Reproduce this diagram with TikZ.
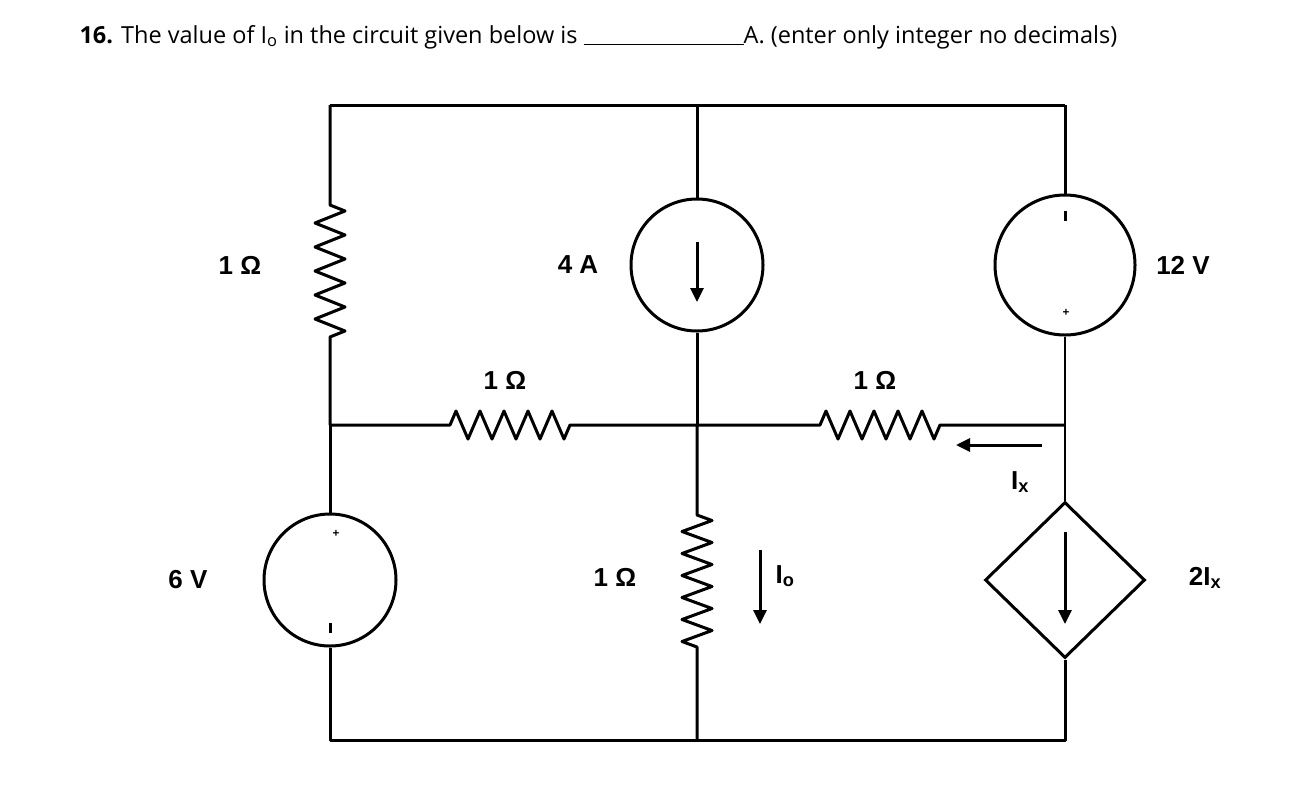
\documentclass[tikz,border=0pt]{standalone}
\usepackage{fontspec}
\setmainfont{Open Sans}
\newfontfamily\lab{Liberation Sans}
\usetikzlibrary{arrows.meta,shapes.geometric}
\begin{document}
\begin{tikzpicture}[x=1pt,y=-1pt,
  wire/.style={line width=3pt,line join=round},
  thin/.style={line width=2pt},
  src/.style={draw,circle,line width=3pt,minimum size=132pt,inner sep=0},
  lbl/.style={font=\lab\bfseries\fontsize{26}{28}\selectfont},
  arr/.style={line width=3pt,-{Triangle[length=14pt,width=13pt]}}]
\useasboundingbox (0,0) rectangle (1308,793);
\node[anchor=west,font=\fontsize{23.5}{26}\selectfont] (title) at (76,37) {\textbf{16.} The value of I\textsubscript{o} in the circuit given below is \rule[-2pt]{160pt}{1.2pt}A. (enter only integer no decimals)};
\coordinate (TL) at (330,105); \coordinate (TM) at (697,105); \coordinate (TR) at (1065,105);
\coordinate (ML) at (330,425); \coordinate (MM) at (697,425); \coordinate (MR) at (1065,425);
\coordinate (BL) at (330,740); \coordinate (BM) at (697,740); \coordinate (BR) at (1065,740);
\node[src] (V6) at (330,580) {};
\node[src] (I4) at (697,265) {};
\node[src,minimum size=140pt] (V12) at (1065,265) {};
\node[draw,diamond,line width=3pt,minimum width=160pt,minimum height=156pt,inner sep=0] (D) at (1065,580) {};
\draw[wire] (TL) -- (TR);
\draw[wire] (TM) -- (I4.north);
\draw[wire] (TR) -- (V12.north);
\draw[thin] (V12.south) -- (MR) -- (D.north);
\draw[wire] (D.south) -- (BR) -- (BL) -- (V6.south);
\draw[wire] (V6.north) -- (ML);
\draw[wire] (TL) -- (330,205)
  -- ++(15,6) -- ++(-30,12) -- ++(30,12) -- ++(-30,12) -- ++(30,12) -- ++(-30,12) -- ++(30,12) -- ++(-30,12) -- ++(30,12) -- ++(-30,12) -- ++(30,12) -- ++(-15,6)
  -- (ML);
\draw[wire] (ML) -- (450,425)
  -- ++(6,-14) -- ++(12,28) -- ++(12,-28) -- ++(12,28) -- ++(12,-28) -- ++(12,28) -- ++(12,-28) -- ++(12,28) -- ++(12,-28) -- ++(12,28) -- ++(6,-14)
  -- (MM) -- (820,425)
  -- ++(6,-14) -- ++(12,28) -- ++(12,-28) -- ++(12,28) -- ++(12,-28) -- ++(12,28) -- ++(12,-28) -- ++(12,28) -- ++(12,-28) -- ++(12,28) -- ++(6,-14)
  -- (MR);
\draw[wire] (I4.south) -- (MM);
\draw[wire] (MM) -- (697,515)
  -- ++(15,5.5) -- ++(-30,11) -- ++(30,11) -- ++(-30,11) -- ++(30,11) -- ++(-30,11) -- ++(30,11) -- ++(-30,11) -- ++(30,11) -- ++(-30,11) -- ++(30,11) -- ++(-30,11) -- ++(15,5.5)
  -- (BM);
\draw[arr] (697,242) -- (697,302);
\draw[arr] (1065,532) -- (1065,624);
\draw[arr] (760,550) -- (760,624);
\draw[arr] (1042,445) -- (956,445);
\node[font=\bfseries\fontsize{12}{12}\selectfont] (p6) at (336,534) {+};
\draw[line width=3pt] (330,623) -- (330,633);
\node[font=\bfseries\fontsize{12}{12}\selectfont] (p12) at (1066,313) {+};
\draw[line width=3pt] (1065,211) -- (1065,221);
\node[lbl] (l1) at (240,265) {1 Ω};
\node[lbl] (l4) at (578,265) {4 A};
\node[lbl] (l12) at (1183,265) {12 V};
\node[lbl] (l2) at (505,380) {1 Ω};
\node[lbl] (l3) at (875,380) {1 Ω};
\node[lbl] (l6) at (188,580) {6 V};
\node[lbl] (l5) at (615,577) {1 Ω};
\node[lbl] (lo) at (785,576) {I\textsubscript{o}};
\node[lbl] (lx) at (1020,482) {I\textsubscript{x}};
\node[lbl] (l2x) at (1205,578) {2I\textsubscript{x}};
\end{tikzpicture}
\end{document}
